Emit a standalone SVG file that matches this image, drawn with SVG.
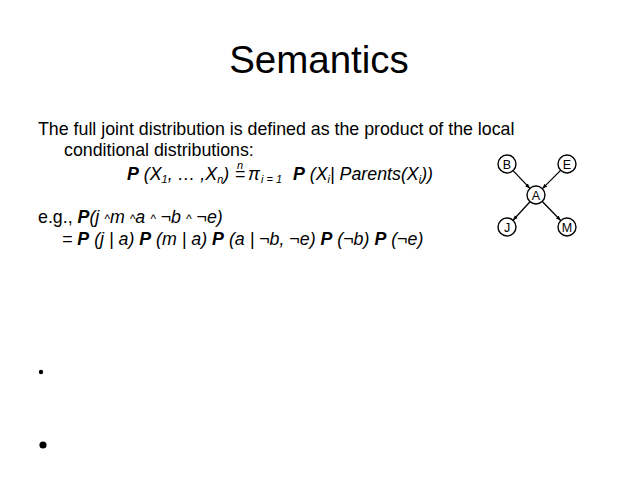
<svg xmlns="http://www.w3.org/2000/svg" width="638" height="478" viewBox="0 0 638 478">
<style>
text{font-family:"Liberation Sans",Arial,sans-serif;fill:#000}
.body{font-size:17.8px}
.it{font-style:italic}
.bi{font-style:italic;font-weight:bold}
.sm{font-size:11px;font-style:italic}
.node circle{fill:#fff;stroke:#000;stroke-width:1.4}
.node text{font-size:12.5px;text-anchor:middle}
.edge{stroke:#000;stroke-width:1.3;fill:none;marker-end:url(#ah)}
</style>
<defs>
<marker id="ah" viewBox="0 0 10 10" refX="10" refY="5" markerWidth="5" markerHeight="5" orient="auto" markerUnits="userSpaceOnUse">
<path d="M0,1 L10,5 L0,9 Z" fill="#000"/>
</marker>
</defs>
<rect width="638" height="478" fill="#fff"/>
<text x="319" y="73" font-size="38.5" text-anchor="middle">Semantics</text>
<text class="body" x="38" y="135">The full joint distribution is defined as the product of the local</text>
<text class="body" x="64" y="156">conditional distributions:</text>
<text class="body it" x="127" y="180"><tspan class="bi">P</tspan> (X<tspan class="sm" dy="3">1</tspan><tspan dy="-3">,  … ,X</tspan><tspan class="sm" dy="3">n</tspan><tspan dy="-3">)</tspan></text>
<text class="body" x="235" y="180">=</text>
<text class="sm" x="237" y="169">n</text>
<text class="body it" x="248" y="180">π</text>
<text class="sm" x="261" y="183">i = 1</text>
<text class="body it" x="293" y="180"><tspan class="bi">P</tspan> (X<tspan class="sm" dy="3">i</tspan><tspan dy="-3">| Parents(X</tspan><tspan class="sm" dy="3">i</tspan><tspan dy="-3">))</tspan></text>
<text class="body" x="38" y="223">e.g., <tspan class="bi">P</tspan><tspan class="it">(j <tspan font-size="12">^</tspan>m <tspan font-size="12">^</tspan>a <tspan font-size="12">^</tspan> ¬b <tspan font-size="12">^</tspan> ¬e)</tspan></text>
<text class="body it" x="62" y="245">= <tspan class="bi">P</tspan> (j | a) <tspan class="bi">P</tspan> (m | a) <tspan class="bi">P</tspan> (a | ¬b, ¬e) <tspan class="bi">P</tspan> (¬b) <tspan class="bi">P</tspan> (¬e)</text>
<circle cx="41" cy="372" r="2.2" fill="#000"/>
<circle cx="43" cy="445" r="3.6" fill="#000"/>
<g id="connectors">
<line class="edge" x1="513.1" y1="170.6" x2="529.9" y2="188.4"/>
<line class="edge" x1="560.6" y1="170.4" x2="542.4" y2="188.6"/>
<line class="edge" x1="530" y1="201.7" x2="513" y2="220.3"/>
<line class="edge" x1="542.3" y1="201.5" x2="560.7" y2="220.5"/>
</g>
<g id="node-B" class="node"><circle cx="507" cy="164" r="9"/><text x="507" y="168.5">B</text></g>
<g id="node-E" class="node"><circle cx="567" cy="164" r="9"/><text x="567" y="168.5">E</text></g>
<g id="node-A" class="node"><circle cx="536" cy="195" r="9"/><text x="536" y="199.5">A</text></g>
<g id="node-J" class="node"><circle cx="507" cy="227" r="9"/><text x="507" y="231.5">J</text></g>
<g id="node-M" class="node"><circle cx="567" cy="227" r="9"/><text x="567" y="231.5">M</text></g>
</svg>
